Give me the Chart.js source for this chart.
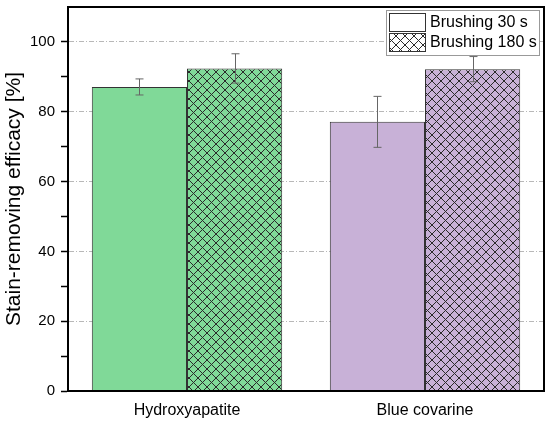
<!DOCTYPE html>
<html>
<head>
<meta charset="utf-8">
<script src="https://cdn.jsdelivr.net/npm/chart.js@4.4.0/dist/chart.umd.min.js"></script>
<style>
  html, body { margin: 0; padding: 0; background: #fff; }
  #wrap { width: 550px; height: 422px; }
</style>
</head>
<body>
<div id="wrap"><canvas id="stainChart"></canvas></div>
<script>
// data
const categories = ['Hydroxyapatite', 'Blue covarine'];
const seriesNames = ['Brushing 30 s', 'Brushing 180 s'];
const values30 = [87.1, 77.1];
const values180 = [92.4, 92.2];
const errors30 = [2.3, 7.3];
const errors180 = [4.2, 3.6];
const yTicks = [0, 20, 40, 60, 80, 100];
const groupColors = ['#80d998', '#c8b1d7'];

const FONT = 'Arial, "Liberation Sans", sans-serif';

// cross hatch fill
function makeHatch(bg) {
  const c = document.createElement('canvas');
  c.width = 9;
  c.height = 9;
  const g = c.getContext('2d');
  g.fillStyle = bg;
  g.fillRect(0, 0, 9, 9);
  g.strokeStyle = '#2a2a2a';
  g.lineWidth = 1;
  g.beginPath();
  g.moveTo(-1, -1); g.lineTo(10, 10);
  g.moveTo(-1, 10); g.lineTo(10, -1);
  g.stroke();
  return g.createPattern(c, 'repeat');
}

const errorBars = {
  id: 'errorBars',
  afterDatasetsDraw(chart) {
    const ctx = chart.ctx;
    const y = chart.scales.y;
    const errs = [errors30, errors180];
    ctx.save();
    ctx.strokeStyle = '#666';
    ctx.lineWidth = 1;
    chart.data.datasets.forEach((ds, i) => {
      const meta = chart.getDatasetMeta(i);
      meta.data.forEach((bar, j) => {
        const v = ds.data[j];
        const e = errs[i][j];
        const top = y.getPixelForValue(v + e);
        const bot = y.getPixelForValue(v - e);
        const x = Math.round(bar.x) + 0.5;
        ctx.beginPath();
        ctx.moveTo(x, top); ctx.lineTo(x, bot);
        ctx.moveTo(x - 4, top); ctx.lineTo(x + 4, top);
        ctx.moveTo(x - 4, bot); ctx.lineTo(x + 4, bot);
        ctx.stroke();
      });
    });
    ctx.restore();
  }
};

const frameAndLegend = {
  id: 'frameAndLegend',
  afterDraw(chart) {
    const ctx = chart.ctx;
    const a = chart.chartArea;
    ctx.save();
    // box round the plot
    ctx.strokeStyle = '#000';
    ctx.lineWidth = 2;
    ctx.strokeRect(a.left, a.top, a.right - a.left, a.bottom - a.top);

    // legend in the top right corner
    const bx = a.right - 158, by = a.top + 3, bw = 153, bh = 45;
    ctx.fillStyle = '#fff';
    ctx.fillRect(bx, by, bw, bh);
    ctx.strokeStyle = '#999';
    ctx.lineWidth = 1;
    ctx.strokeRect(bx + 0.5, by + 0.5, bw, bh);
    const swatches = ['#fff', makeHatch('#fff')];
    ctx.font = '16px ' + FONT;
    ctx.textBaseline = 'middle';
    seriesNames.forEach((name, i) => {
      const sy = by + 3 + i * 20;
      ctx.fillStyle = swatches[i];
      ctx.fillRect(bx + 3, sy, 36, 18);
      ctx.strokeStyle = '#333';
      ctx.strokeRect(bx + 3.5, sy + 0.5, 36, 18);
      ctx.fillStyle = '#000';
      ctx.fillText(name, bx + 44, sy + 10);
    });
    ctx.restore();
  }
};

const data = {
  labels: categories,
  datasets: [
    {
      label: seriesNames[0],
      data: values30,
      backgroundColor: groupColors,
    },
    {
      label: seriesNames[1],
      data: values180,
      backgroundColor: groupColors.map((c) => makeHatch(c)),
    },
  ],
};

const config = {
  type: 'bar',
  data,
  options: {
    responsive: true,
    maintainAspectRatio: false,
    animation: false,
    layout: { padding: { top: 7, right: 6, left: 0, bottom: 0 } },
    datasets: {
      bar: {
        categoryPercentage: 0.8,
        barPercentage: 1.0,
        borderColor: '#333',
        borderWidth: 1,
      },
    },
    plugins: {
      legend: { display: false },
      tooltip: { enabled: false },
    },
    scales: {
      x: {
        grid: { display: false, drawTicks: false },
        border: { display: true, color: '#000', width: 2 },
        ticks: { color: '#000', font: { family: FONT, size: 16 }, padding: 10 },
        afterFit(scale) { scale.height = 31; },
      },
      y: {
        min: 0,
        max: 110,
        border: { display: true, color: '#000', width: 2, dash: [5, 2, 1, 2] },
        grid: {
          color: (c) => (c.tick && c.tick.value !== 0 && yTicks.includes(c.tick.value) ? '#b8b8b8' : 'rgba(0,0,0,0)'),
          drawOnChartArea: true,
          tickColor: '#000',
          tickLength: 7,
          tickWidth: 1.5,
        },
        ticks: {
          stepSize: 10,
          color: '#000',
          padding: 6,
          font: { family: FONT, size: 15 },
          // labels only on the major ticks, nothing at the top edge
          callback: (v) => (v >= 110 ? null : yTicks.includes(v) ? v : ''),
        },
        title: {
          display: true,
          text: 'Stain-removing efficacy [%]',
          color: '#000',
          font: { family: FONT, size: 21 },
          padding: { top: 2, bottom: 0 },
        },
        afterFit(scale) {
          scale.width = 68;
          // the plot box runs right up to the top margin
          scale.paddingTop = 0;
          scale.paddingBottom = 0;
        },
      },
    },
  },
  plugins: [errorBars, frameAndLegend],
};

new Chart(document.getElementById('stainChart'), config);
</script>
</body>
</html>
